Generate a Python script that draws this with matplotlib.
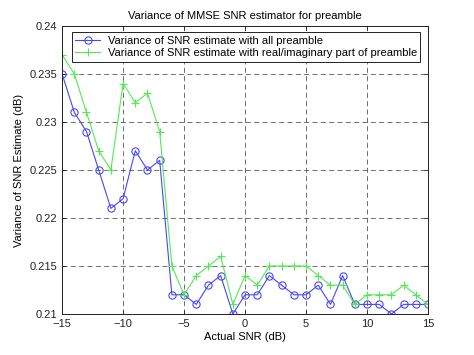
import matplotlib
matplotlib.use("Agg")
import matplotlib.pyplot as plt

snr = list(range(-15, 16))
var_all = [0.235, 0.231, 0.229, 0.225, 0.221, 0.222, 0.227, 0.225, 0.226,
           0.212, 0.212, 0.211, 0.213, 0.214, 0.210, 0.212, 0.212, 0.214,
           0.213, 0.212, 0.212, 0.213, 0.211, 0.214, 0.211, 0.211, 0.211,
           0.210, 0.211, 0.211, 0.211]
var_ri = [0.237, 0.235, 0.231, 0.227, 0.225, 0.234, 0.232, 0.233, 0.229,
          0.215, 0.212, 0.214, 0.215, 0.216, 0.211, 0.214, 0.213, 0.215,
          0.215, 0.215, 0.215, 0.214, 0.213, 0.213, 0.211, 0.212, 0.212,
          0.212, 0.213, 0.212, 0.211]
xticks = [-15, -10, -5, 0, 5, 10, 15]
yticks = [0.21, 0.215, 0.22, 0.225, 0.23, 0.235, 0.24]
ytick_labels = ["0.21", "0.215", "0.22", "0.225", "0.23", "0.235", "0.24"]

plt.rcParams['font.family'] = ['Liberation Sans', 'DejaVu Sans']
plt.rcParams['font.size'] = 8

fig = plt.figure(figsize=(4.74, 3.55), dpi=100)
ax = fig.add_axes([0.131, 0.1155, 0.772, 0.8115])

ax.plot(snr, var_all, '-o', color='#4848f0', lw=0.8, markersize=5.2,
        markerfacecolor='none', markeredgewidth=0.8,
        label='Variance of SNR estimate with all preamble')
ax.plot(snr, var_ri, '-+', color='#55e855', lw=0.8, markersize=6,
        markeredgewidth=0.8,
        label='Variance of SNR estimate with real/imaginary part of preamble')

ax.set_xlim(-15, 15)
ax.set_ylim(0.21, 0.24)
ax.set_xticks(xticks)
ax.set_yticks(yticks)
ax.set_yticklabels(ytick_labels)
ax.grid(True, linestyle=(0, (6, 4)), color='#555555', linewidth=0.6)
ax.tick_params(direction='in', length=3, width=0.6, top=True, right=True,
               labelsize=8, colors='#222222')
for s in ax.spines.values():
    s.set_linewidth(0.7)
    s.set_color('#222222')

ax.set_title('Variance of MMSE SNR estimator for preamble', fontsize=8, pad=5)
ax.set_xlabel('Actual SNR (dB)', fontsize=8, labelpad=2)
ax.set_ylabel('Variance of SNR Estimate (dB)', fontsize=8, labelpad=4)

leg = ax.legend(loc='upper left', bbox_to_anchor=(0.027, 0.978), fontsize=8,
                frameon=True, fancybox=False, framealpha=1, edgecolor='#222222',
                borderpad=0.3, labelspacing=0.25, handlelength=2.2,
                handletextpad=0.7, borderaxespad=0)
leg.get_frame().set_linewidth(0.7)

fig.savefig('out.png', dpi=100)
